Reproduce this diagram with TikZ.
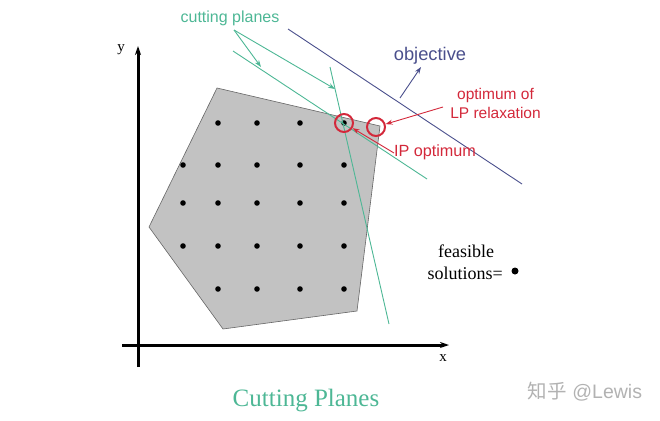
\documentclass[tikz,border=0pt]{standalone}
\usepackage{fontspec}
\setmainfont{Liberation Serif}
\setsansfont{Liberation Sans}
\newfontfamily\cjk{Noto Sans CJK SC}
\usetikzlibrary{arrows.meta}
\definecolor{cutgreen}{HTML}{4DB795}
\definecolor{objblue}{HTML}{4A4F8C}
\definecolor{optred}{HTML}{D3283A}
\tikzset{
    axis/.style={line width=3pt, -{Stealth[length=9pt,width=6pt]}},
    solution/.style={circle, fill=black, inner sep=0pt, minimum size=5.6pt},
    optcircle/.style={circle, draw=optred, line width=2pt, inner sep=0pt, minimum size=18pt},
    cutline/.style={draw=cutgreen, line width=0.9pt},
    cutarrow/.style={cutline, -{Stealth[length=7pt,width=5pt]}},
    redarrow/.style={draw=optred, line width=0.9pt, -{Stealth[length=7pt,width=5pt]}},
    bluetext/.style={font=\sffamily\fontsize{18.3}{20}\selectfont, text=objblue},
    redtext/.style={font=\sffamily\fontsize{15.5}{19}\selectfont, text=optred, align=center},
    blacktext/.style={font=\fontsize{18}{22}\selectfont, align=center},
}
\begin{document}
\begin{tikzpicture}[x=1pt, y=-1pt]
    \useasboundingbox (0,0) rectangle (660,420);
    % feasible region
    \filldraw[fill=black!24, draw=black!60, line width=0.6pt]
        (217,88) -- (380,126) -- (357,311) -- (223,329) -- (149,227) -- cycle;
    % integer points
    \foreach \x in {218,257,300,344} {
        \node[solution] (top\x) at (\x,123) {};
        \node[solution] (bot\x) at (\x,289) {};
    }
    \foreach \x in {183,218,257,300,344} {
        \foreach \y in {165,203,246} {
            \node[solution] (mid\x\y) at (\x,\y) {};
        }
    }
    % axes
    \coordinate (ystart) at (138,367);
    \coordinate (yend) at (138,46);
    \coordinate (xstart) at (122,345);
    \coordinate (xend) at (449,345);
    \draw[axis] (ystart) -- (yend);
    \draw[axis] (xstart) -- (xend);
    \node[font=\fontsize{15}{15}\selectfont] (ylabel) at (121,50) {y};
    \node[font=\fontsize{15}{15}\selectfont] (xlabel) at (443,358) {x};
    % objective
    \coordinate (objA) at (288,29);
    \coordinate (objB) at (522,184);
    \coordinate (objC) at (400,98);
    \draw[draw=objblue, line width=0.9pt] (objA) -- (objB);
    \node[bluetext] (objective) at (430,56) {objective};
    \draw[draw=objblue, line width=0.9pt, -{Stealth[length=7pt,width=5pt]}] (objC) -- (421,67);
    % cutting planes
    \coordinate (cutA) at (233,51);
    \coordinate (cutB) at (427,179);
    \coordinate (cutC) at (330,67);
    \coordinate (cutD) at (389,324);
    \draw[cutline] (cutA) -- (cutB);
    \draw[cutline] (cutC) -- (cutD);
    \node[font=\sffamily\fontsize{16}{18}\selectfont, text=cutgreen] (cutlabel) at (230,18) {cutting planes};
    \coordinate (cutfrom) at (234,30);
    \coordinate (cutto1) at (261,67);
    \coordinate (cutto2) at (335,89);
    \draw[cutarrow] (cutfrom) -- (cutto1);
    \draw[cutarrow] (cutfrom) -- (cutto2);
    % optima
    \node[optcircle] (ipopt) at (344,123) {};
    \node[optcircle] (lpopt) at (376,127) {};
    \node[redtext] (lplabel) at (495.5,103.5) {optimum of\\LP relaxation};
    \node[redtext, font=\sffamily\fontsize{16.2}{19}\selectfont] (iplabel) at (435,152) {IP optimum};
    \coordinate (lpfrom) at (443,107);
    \coordinate (ipfrom) at (394,153);
    \draw[redarrow] (lpfrom) -- (lpopt);
    \draw[redarrow] (ipfrom) -- (ipopt);
    % legend
    \node[blacktext] (feasible) at (466,251) {feasible};
    \node[blacktext, anchor=west] (solutions) at (424,273) {solutions=};
    \node[solution, minimum size=7pt] (legenddot) at (515,271) {};
    % caption
    \node[font=\fontsize{25}{25}\selectfont, text=cutgreen] (caption) at (306,401) {Cutting Planes};
    \node[font=\sffamily\fontsize{19.5}{20}\selectfont, text=black!30] (mark) at (585,392) {{\cjk 知乎} @Lewis};
\end{tikzpicture}
\end{document}
